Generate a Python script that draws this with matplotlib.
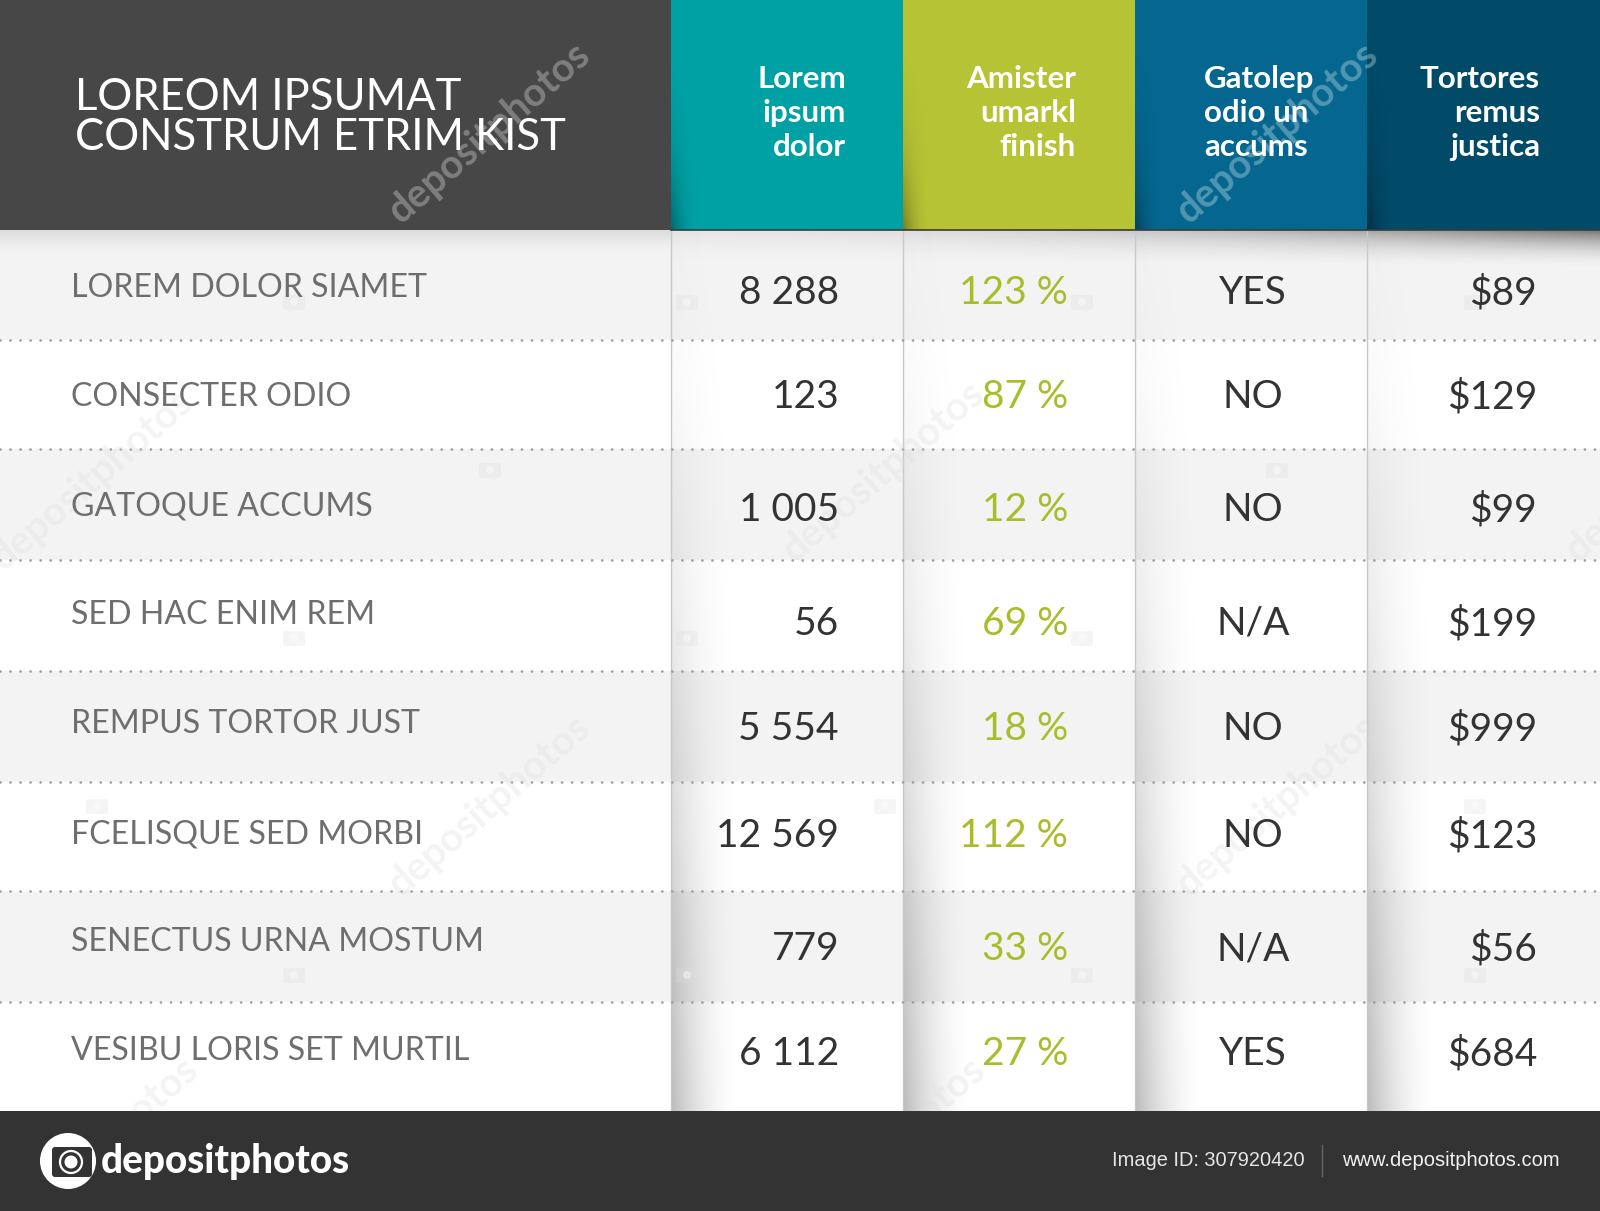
import numpy as np
import matplotlib
matplotlib.use("Agg")
import matplotlib.pyplot as plt
from matplotlib.patches import Rectangle, Circle, FancyBboxPatch

W, H = 1600, 1211

# -------------------------
# TABLE CONTENT
# -------------------------
title_lines = ["LOREOM IPSUMAT", "CONSTRUM ETRIM KIST"]
col_headers = [
    ["Lorem", "ipsum", "dolor"],
    ["Amister", "umarkl", "finish"],
    ["Gatolep", "odio un", "accums"],
    ["Tortores", "remus", "justica"],
]
row_labels = [
    "LOREM DOLOR SIAMET", "CONSECTER ODIO", "GATOQUE ACCUMS", "SED HAC ENIM REM",
    "REMPUS TORTOR JUST", "FCELISQUE SED MORBI", "SENECTUS URNA MOSTUM", "VESIBU LORIS SET MURTIL",
]
col1_values = ["8 288", "123", "1 005", "56", "5 554", "12 569", "779", "6 112"]
col2_values = ["123 %", "87 %", "12 %", "69 %", "18 %", "112 %", "33 %", "27 %"]
col3_values = ["YES", "NO", "NO", "N/A", "NO", "NO", "N/A", "YES"]
col4_values = ["$89", "$129", "$99", "$199", "$999", "$123", "$56", "$684"]

# layout, in image pixels
col_edges = [671, 903, 1135, 1367, 1600]
header_colors = ["#00a1a5", "#b6c334", "#05678f", "#014a68"]
header_bottom = 230
footer_top = 1111
row_edges = [230, 340, 449, 560, 671, 782, 891, 1002, 1111]
label_y = [288, 397, 506, 615, 724, 834, 942, 1051]
value_y = [293, 397, 510, 624, 729, 836, 949, 1054]
wm_big = [(489, 133), (1277, 133)]
wm_faint = [(92, 480), (883, 472), (489, 806), (1277, 806), (97, 1148), (884, 1148), (1666, 472)]
wm_icons = [(294, 302), (687, 302), (885, 133), (1082, 302), (1475, 302), (490, 470), (1277, 470),
            (294, 638), (687, 638), (1082, 638), (97, 806), (885, 806), (1475, 806),
            (294, 975), (687, 975), (1082, 975), (1475, 975)]


def fade(ax, x0, x1, y0, y1, alpha, color=(0, 0, 0), z=2):
    rgba = np.zeros(alpha.shape + (4,))
    rgba[..., :3] = color
    rgba[..., 3] = alpha
    ax.imshow(rgba, extent=(x0, x1, y1, y0), aspect="auto", zorder=z, interpolation="bilinear")


def small_camera(ax, x, y):
    ax.add_patch(FancyBboxPatch((x - 11, y - 7), 22, 15, boxstyle="round,pad=0,rounding_size=2",
                                fc="#dddddd", ec="none", alpha=0.28, zorder=4))
    ax.add_patch(Circle((x, y), 4, fc="white", ec="none", alpha=0.4, zorder=4))


fig = plt.figure(figsize=(W / 100, H / 100), dpi=100)
ax = fig.add_axes([0, 0, 1, 1])
ax.axis("off")

# row bands
for i in range(8):
    band = "#f3f3f3" if i % 2 == 0 else "white"
    ax.add_patch(Rectangle((0, row_edges[i]), W, row_edges[i + 1] - row_edges[i], fc=band, ec="none", zorder=1))

# shadows at the left of each value column, stronger towards the bottom
for left in col_edges[:-1]:
    xs = np.linspace(0, 1, 60)[None, :]
    ys = np.linspace(0, 1, 120)[:, None]
    a = (1 - xs) ** 2 * (0.01 + 0.26 * ys ** 1.5)
    fade(ax, left, left + 75, header_bottom, footer_top, a)

# shadow under the header, growing to the right
xs = np.linspace(0, 1, 200)[None, :]
ys = np.linspace(0, 1, 40)[:, None]
fade(ax, 671, W, header_bottom, header_bottom + 40, (1 - ys) ** 2 * (0.06 + 0.45 * xs ** 2), z=2)
fade(ax, 0, 671, header_bottom, header_bottom + 30, (1 - ys) ** 2 * 0.10 * np.ones_like(xs), z=2)

# column rules
for x in col_edges[:-1]:
    ax.plot([x, x], [header_bottom, footer_top], color="#c9c9c9", lw=1, zorder=3)

# dotted row rules
for y in row_edges[1:-1]:
    ax.plot([0, W], [y, y], color="#a0a0a0", lw=2.0, zorder=3,
            linestyle=(0, (0.01, 3.6)), dash_capstyle="round")

# header blocks
ax.add_patch(Rectangle((0, 0), 671, header_bottom, fc="#474747", ec="none", zorder=5))
for i, c in enumerate(header_colors):
    ax.add_patch(Rectangle((col_edges[i], 0), col_edges[i + 1] - col_edges[i], header_bottom, fc=c, ec="none", zorder=5))
    xs = np.linspace(0, 1, 40)[None, :]
    ys = np.linspace(0, 1, 100)[:, None]
    fade(ax, col_edges[i], col_edges[i] + 28, 0, header_bottom, (1 - xs) ** 2 * ys ** 3 * 0.35, z=6)
ax.plot([671, W], [header_bottom, header_bottom], color="#3a3a3a", lw=1.2, zorder=6)

# faint diagonal watermark
for x, y in wm_big:
    ax.text(x, y, "depositphotos", color="white", alpha=0.3, fontsize=28.5, family="Lato", fontweight="bold",
            rotation=41, ha="center", va="center", rotation_mode="anchor", zorder=7, clip_on=True)
for x, y in wm_faint:
    ax.text(x, y, "depositphotos", color="#dcdcdc", alpha=0.3, fontsize=28.5, family="Lato", fontweight="bold",
            rotation=41, ha="center", va="center", rotation_mode="anchor", zorder=4, clip_on=True)
for x, y in wm_icons:
    small_camera(ax, x, y)

# title
ax.text(75, 98, title_lines[0], color="white", fontsize=31.4, family="Lato", va="center", ha="left", zorder=8)
ax.text(75, 138, title_lines[1], color="white", fontsize=31.4, family="Lato", va="center", ha="left", zorder=8)

# column headers
header_anchor = [(846, "right"), (1076, "right"), (1204, "left"), (1540, "right")]
for (x, align), lines in zip(header_anchor, col_headers):
    for y, line in zip([79, 113, 147], lines):
        ax.text(x, y, line, color="white", fontsize=22.6, family="Lato", fontweight="bold", va="center", ha=align, zorder=8)

# row labels and values
for i, label in enumerate(row_labels):
    ax.text(71, label_y[i], label, color="#6e6e6e", fontsize=23.1, family="Lato", va="center", ha="left", zorder=8)
    ax.text(839, value_y[i], col1_values[i], color="#333333", fontsize=28, family="Lato", va="center", ha="right", zorder=8)
    ax.text(1068, value_y[i], col2_values[i], color="#a9bd2b", fontsize=28, family="Lato", va="center", ha="right", zorder=8)
    ax.text(1253, value_y[i], col3_values[i], color="#333333", fontsize=28, family="Lato", va="center", ha="center", zorder=8)
    ax.text(1537, value_y[i], col4_values[i], color="#333333", fontsize=28, family="Lato", va="center", ha="right", zorder=8)

# footer
ax.add_patch(Rectangle((0, footer_top), W, H - footer_top, fc="#333333", ec="none", zorder=9))
ax.add_patch(Circle((68, 1161), 28, fc="white", ec="none", zorder=10))
ax.add_patch(FancyBboxPatch((52, 1147), 40, 30, boxstyle="round,pad=0,rounding_size=3", fc="#333333", ec="none", zorder=11))
ax.add_patch(Circle((71, 1162), 11, fc="none", ec="white", lw=1.6, zorder=12))
ax.add_patch(Circle((71, 1162), 6.5, fc="white", ec="none", zorder=12))
ax.text(101, 1162, "depositphotos", color="white", fontsize=27.8, family="Lato", fontweight="black",
        va="center", ha="left", zorder=10)
ax.text(1112, 1161, "Image ID: 307920420", color="#e6e6e6", fontsize=14.4, family="Liberation Sans", va="center", ha="left", zorder=10)
ax.plot([1322, 1322], [1145, 1176], color="#666666", lw=1, zorder=10)
ax.text(1342, 1161, "www.depositphotos.com", color="#f2f2f2", fontsize=14.5, family="Liberation Sans", va="center", ha="left", zorder=10)

ax.set_xlim(0, W)
ax.set_ylim(H, 0)
fig.savefig("out.png", dpi=100)
plt.close(fig)
